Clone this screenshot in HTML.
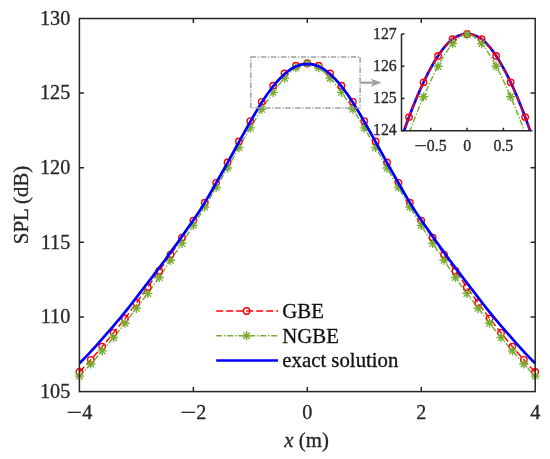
<!DOCTYPE html>
<html><head><meta charset="utf-8"><title>SPL</title>
<style>html,body{margin:0;padding:0;background:#fff}svg{display:block}</style></head>
<body>
<svg width="550" height="459" viewBox="0 0 550 459">
<rect width="550" height="459" fill="#fff"/>
<defs>
<g id="mo"><circle r="3.2" fill="none" stroke="#ff0000" stroke-width="1.4"/></g>
<g id="ma" stroke="#77ac30" stroke-width="1.4" fill="none"><path d="M-4.6,0H4.6M0,-4.6V4.6M-3.25,-3.25L3.25,3.25M-3.25,3.25L3.25,-3.25"/></g>
<clipPath id="cm"><rect x="79.4" y="18.5" width="455.80000000000007" height="373.1"/></clipPath>
<clipPath id="ci"><rect x="401.5" y="28.0" width="130.9" height="102.7"/></clipPath>
</defs>
<g fill="none" stroke-linejoin="round">
<path d="M79.40,371.90 L82.25,369.04 L85.10,366.06 L87.95,362.98 L90.80,359.81 L93.64,356.57 L96.49,353.26 L99.34,349.91 L102.19,346.53 L105.04,343.13 L107.89,339.71 L110.74,336.26 L113.59,332.80 L116.43,329.31 L119.28,325.77 L122.13,322.16 L124.98,318.47 L127.83,314.68 L130.68,310.81 L133.53,306.89 L136.38,302.95 L139.22,299.01 L142.07,295.06 L144.92,291.11 L147.77,287.13 L150.62,283.13 L153.47,279.11 L156.32,275.07 L159.17,271.01 L162.01,266.95 L164.86,262.87 L167.71,258.76 L170.56,254.60 L173.41,250.38 L176.26,246.13 L179.11,241.85 L181.96,237.58 L184.80,233.34 L187.65,229.10 L190.50,224.85 L193.35,220.57 L196.20,216.24 L199.05,211.84 L201.90,207.32 L204.75,202.66 L207.59,197.84 L210.44,192.89 L213.29,187.86 L216.14,182.81 L218.99,177.78 L221.84,172.73 L224.69,167.66 L227.54,162.52 L230.38,157.29 L233.23,152.02 L236.08,146.73 L238.93,141.47 L241.78,136.28 L244.63,131.14 L247.48,126.06 L250.33,121.03 L253.17,116.04 L256.02,111.14 L258.87,106.37 L261.72,101.78 L264.57,97.40 L267.42,93.25 L270.27,89.34 L273.12,85.66 L275.96,82.22 L278.81,79.03 L281.66,76.10 L284.51,73.42 L287.36,71.01 L290.21,68.90 L293.06,67.11 L295.91,65.66 L298.75,64.57 L301.60,63.83 L304.45,63.41 L307.30,63.27 L310.15,63.41 L313.00,63.83 L315.85,64.57 L318.70,65.66 L321.54,67.11 L324.39,68.90 L327.24,71.01 L330.09,73.42 L332.94,76.10 L335.79,79.03 L338.64,82.22 L341.49,85.66 L344.33,89.34 L347.18,93.25 L350.03,97.40 L352.88,101.78 L355.73,106.37 L358.58,111.14 L361.43,116.04 L364.28,121.03 L367.12,126.06 L369.97,131.14 L372.82,136.28 L375.67,141.47 L378.52,146.73 L381.37,152.02 L384.22,157.29 L387.07,162.52 L389.91,167.66 L392.76,172.73 L395.61,177.78 L398.46,182.81 L401.31,187.86 L404.16,192.89 L407.01,197.84 L409.86,202.66 L412.70,207.32 L415.55,211.84 L418.40,216.24 L421.25,220.57 L424.10,224.85 L426.95,229.10 L429.80,233.34 L432.65,237.58 L435.49,241.85 L438.34,246.13 L441.19,250.38 L444.04,254.60 L446.89,258.76 L449.74,262.87 L452.59,266.95 L455.44,271.01 L458.28,275.07 L461.13,279.11 L463.98,283.13 L466.83,287.13 L469.68,291.11 L472.53,295.06 L475.38,299.01 L478.23,302.95 L481.07,306.89 L483.92,310.81 L486.77,314.68 L489.62,318.47 L492.47,322.16 L495.32,325.77 L498.17,329.31 L501.02,332.80 L503.86,336.26 L506.71,339.71 L509.56,343.13 L512.41,346.53 L515.26,349.91 L518.11,353.26 L520.96,356.57 L523.81,359.81 L526.65,362.98 L529.50,366.06 L532.35,369.04 L535.20,371.90" stroke="#ff0000" stroke-width="1.45" stroke-dasharray="7 3"/>
<path d="M79.40,376.08 L82.25,373.21 L85.10,370.23 L87.95,367.15 L90.80,363.99 L93.64,360.76 L96.49,357.49 L99.34,354.18 L102.19,350.86 L105.04,347.53 L107.89,344.19 L110.74,340.83 L113.59,337.43 L116.43,333.97 L119.28,330.46 L122.13,326.88 L124.98,323.25 L127.83,319.55 L130.68,315.82 L133.53,312.06 L136.38,308.32 L139.22,304.61 L142.07,300.90 L144.92,297.18 L147.77,293.40 L150.62,289.55 L153.47,285.61 L156.32,281.57 L159.17,277.43 L162.01,273.18 L164.86,268.87 L167.71,264.55 L170.56,260.27 L173.41,256.06 L176.26,251.89 L179.11,247.69 L181.96,243.40 L184.80,238.99 L187.65,234.48 L190.50,229.91 L193.35,225.35 L196.20,220.81 L199.05,216.27 L201.90,211.68 L204.75,206.99 L207.59,202.18 L210.44,197.27 L213.29,192.34 L216.14,187.44 L218.99,182.60 L221.84,177.80 L224.69,172.96 L227.54,168.04 L230.38,162.99 L233.23,157.86 L236.08,152.71 L238.93,147.59 L241.78,142.56 L244.63,137.60 L247.48,132.72 L250.33,127.89 L253.17,123.12 L256.02,118.41 L258.87,113.77 L261.72,109.24 L264.57,104.82 L267.42,100.52 L270.27,96.37 L273.12,92.37 L275.96,88.55 L278.81,84.90 L281.66,81.45 L284.51,78.20 L287.36,75.16 L290.21,72.37 L293.06,69.89 L295.91,67.75 L298.75,66.00 L301.60,64.68 L304.45,63.86 L307.30,63.57 L310.15,63.86 L313.00,64.68 L315.85,66.00 L318.70,67.75 L321.54,69.89 L324.39,72.37 L327.24,75.16 L330.09,78.20 L332.94,81.45 L335.79,84.90 L338.64,88.55 L341.49,92.37 L344.33,96.37 L347.18,100.52 L350.03,104.82 L352.88,109.24 L355.73,113.77 L358.58,118.41 L361.43,123.12 L364.28,127.89 L367.12,132.72 L369.97,137.60 L372.82,142.56 L375.67,147.59 L378.52,152.71 L381.37,157.86 L384.22,162.99 L387.07,168.04 L389.91,172.96 L392.76,177.80 L395.61,182.60 L398.46,187.44 L401.31,192.34 L404.16,197.27 L407.01,202.18 L409.86,206.99 L412.70,211.68 L415.55,216.27 L418.40,220.81 L421.25,225.35 L424.10,229.91 L426.95,234.48 L429.80,238.99 L432.65,243.40 L435.49,247.69 L438.34,251.89 L441.19,256.06 L444.04,260.27 L446.89,264.55 L449.74,268.87 L452.59,273.18 L455.44,277.43 L458.28,281.57 L461.13,285.61 L463.98,289.55 L466.83,293.40 L469.68,297.18 L472.53,300.90 L475.38,304.61 L478.23,308.32 L481.07,312.06 L483.92,315.82 L486.77,319.55 L489.62,323.25 L492.47,326.88 L495.32,330.46 L498.17,333.97 L501.02,337.43 L503.86,340.83 L506.71,344.19 L509.56,347.53 L512.41,350.86 L515.26,354.18 L518.11,357.49 L520.96,360.76 L523.81,363.99 L526.65,367.15 L529.50,370.23 L532.35,373.21 L535.20,376.08" stroke="#77ac30" stroke-width="1.45" stroke-dasharray="6 1.8 1.4 1.8"/>
</g>
<use href="#mo" x="79.40" y="371.90"/>
<use href="#mo" x="90.80" y="359.81"/>
<use href="#mo" x="102.19" y="346.53"/>
<use href="#mo" x="113.59" y="332.80"/>
<use href="#mo" x="124.98" y="318.47"/>
<use href="#mo" x="136.38" y="302.95"/>
<use href="#mo" x="147.77" y="287.13"/>
<use href="#mo" x="159.17" y="271.01"/>
<use href="#mo" x="170.56" y="254.60"/>
<use href="#mo" x="181.96" y="237.58"/>
<use href="#mo" x="193.35" y="220.57"/>
<use href="#mo" x="204.75" y="202.66"/>
<use href="#mo" x="216.14" y="182.81"/>
<use href="#mo" x="227.54" y="162.52"/>
<use href="#mo" x="238.93" y="141.47"/>
<use href="#mo" x="250.33" y="121.03"/>
<use href="#mo" x="261.72" y="101.78"/>
<use href="#mo" x="273.12" y="85.66"/>
<use href="#mo" x="284.51" y="73.42"/>
<use href="#mo" x="295.91" y="65.66"/>
<use href="#mo" x="307.30" y="63.27"/>
<use href="#mo" x="318.70" y="65.66"/>
<use href="#mo" x="330.09" y="73.42"/>
<use href="#mo" x="341.49" y="85.66"/>
<use href="#mo" x="352.88" y="101.78"/>
<use href="#mo" x="364.28" y="121.03"/>
<use href="#mo" x="375.67" y="141.47"/>
<use href="#mo" x="387.07" y="162.52"/>
<use href="#mo" x="398.46" y="182.81"/>
<use href="#mo" x="409.86" y="202.66"/>
<use href="#mo" x="421.25" y="220.57"/>
<use href="#mo" x="432.65" y="237.58"/>
<use href="#mo" x="444.04" y="254.60"/>
<use href="#mo" x="455.44" y="271.01"/>
<use href="#mo" x="466.83" y="287.13"/>
<use href="#mo" x="478.23" y="302.95"/>
<use href="#mo" x="489.62" y="318.47"/>
<use href="#mo" x="501.02" y="332.80"/>
<use href="#mo" x="512.41" y="346.53"/>
<use href="#mo" x="523.81" y="359.81"/>
<use href="#mo" x="535.20" y="371.90"/>
<use href="#ma" x="79.40" y="376.08"/>
<use href="#ma" x="90.80" y="363.99"/>
<use href="#ma" x="102.19" y="350.86"/>
<use href="#ma" x="113.59" y="337.43"/>
<use href="#ma" x="124.98" y="323.25"/>
<use href="#ma" x="136.38" y="308.32"/>
<use href="#ma" x="147.77" y="293.40"/>
<use href="#ma" x="159.17" y="277.43"/>
<use href="#ma" x="170.56" y="260.27"/>
<use href="#ma" x="181.96" y="243.40"/>
<use href="#ma" x="193.35" y="225.35"/>
<use href="#ma" x="204.75" y="206.99"/>
<use href="#ma" x="216.14" y="187.44"/>
<use href="#ma" x="227.54" y="168.04"/>
<use href="#ma" x="238.93" y="147.59"/>
<use href="#ma" x="250.33" y="127.89"/>
<use href="#ma" x="261.72" y="109.24"/>
<use href="#ma" x="273.12" y="92.37"/>
<use href="#ma" x="284.51" y="78.20"/>
<use href="#ma" x="295.91" y="67.75"/>
<use href="#ma" x="307.30" y="63.57"/>
<use href="#ma" x="318.70" y="67.75"/>
<use href="#ma" x="330.09" y="78.20"/>
<use href="#ma" x="341.49" y="92.37"/>
<use href="#ma" x="352.88" y="109.24"/>
<use href="#ma" x="364.28" y="127.89"/>
<use href="#ma" x="375.67" y="147.59"/>
<use href="#ma" x="387.07" y="168.04"/>
<use href="#ma" x="398.46" y="187.44"/>
<use href="#ma" x="409.86" y="206.99"/>
<use href="#ma" x="421.25" y="225.35"/>
<use href="#ma" x="432.65" y="243.40"/>
<use href="#ma" x="444.04" y="260.27"/>
<use href="#ma" x="455.44" y="277.43"/>
<use href="#ma" x="466.83" y="293.40"/>
<use href="#ma" x="478.23" y="308.32"/>
<use href="#ma" x="489.62" y="323.25"/>
<use href="#ma" x="501.02" y="337.43"/>
<use href="#ma" x="512.41" y="350.86"/>
<use href="#ma" x="523.81" y="363.99"/>
<use href="#ma" x="535.20" y="376.08"/>
<path d="M79.40,363.39 L82.25,360.56 L85.10,357.64 L87.95,354.65 L90.80,351.60 L93.64,348.50 L96.49,345.34 L99.34,342.15 L102.19,338.92 L105.04,335.66 L107.89,332.39 L110.74,329.09 L113.59,325.79 L116.43,322.46 L119.28,319.10 L122.13,315.69 L124.98,312.20 L127.83,308.63 L130.68,304.98 L133.53,301.29 L136.38,297.58 L139.22,293.88 L142.07,290.18 L144.92,286.49 L147.77,282.80 L150.62,279.11 L153.47,275.39 L156.32,271.66 L159.17,267.88 L162.01,264.06 L164.86,260.20 L167.71,256.29 L170.56,252.36 L173.41,248.40 L176.26,244.41 L179.11,240.41 L181.96,236.39 L184.80,232.36 L187.65,228.32 L190.50,224.24 L193.35,220.12 L196.20,215.94 L199.05,211.67 L201.90,207.25 L204.75,202.66 L207.59,197.92 L210.44,193.01 L213.29,188.02 L216.14,183.00 L218.99,178.00 L221.84,173.00 L224.69,167.98 L227.54,162.89 L230.38,157.72 L233.23,152.49 L236.08,147.25 L238.93,142.03 L241.78,136.88 L244.63,131.79 L247.48,126.76 L250.33,121.77 L253.17,116.79 L256.02,111.89 L258.87,107.12 L261.72,102.52 L264.57,98.15 L267.42,94.00 L270.27,90.08 L273.12,86.40 L275.96,82.97 L278.81,79.78 L281.66,76.84 L284.51,74.17 L287.36,71.76 L290.21,69.65 L293.06,67.85 L295.91,66.41 L298.75,65.32 L301.60,64.58 L304.45,64.15 L307.30,64.02 L310.15,64.15 L313.00,64.58 L315.85,65.32 L318.70,66.41 L321.54,67.85 L324.39,69.65 L327.24,71.76 L330.09,74.17 L332.94,76.84 L335.79,79.78 L338.64,82.97 L341.49,86.40 L344.33,90.08 L347.18,94.00 L350.03,98.15 L352.88,102.52 L355.73,107.12 L358.58,111.89 L361.43,116.79 L364.28,121.77 L367.12,126.76 L369.97,131.79 L372.82,136.88 L375.67,142.03 L378.52,147.25 L381.37,152.49 L384.22,157.72 L387.07,162.89 L389.91,167.98 L392.76,173.00 L395.61,178.00 L398.46,183.00 L401.31,188.02 L404.16,193.01 L407.01,197.92 L409.86,202.66 L412.70,207.25 L415.55,211.67 L418.40,215.94 L421.25,220.12 L424.10,224.24 L426.95,228.32 L429.80,232.36 L432.65,236.39 L435.49,240.41 L438.34,244.41 L441.19,248.40 L444.04,252.36 L446.89,256.29 L449.74,260.20 L452.59,264.06 L455.44,267.88 L458.28,271.66 L461.13,275.39 L463.98,279.11 L466.83,282.80 L469.68,286.49 L472.53,290.18 L475.38,293.88 L478.23,297.58 L481.07,301.29 L483.92,304.98 L486.77,308.63 L489.62,312.20 L492.47,315.69 L495.32,319.10 L498.17,322.46 L501.02,325.79 L503.86,329.09 L506.71,332.39 L509.56,335.66 L512.41,338.92 L515.26,342.15 L518.11,345.34 L520.96,348.50 L523.81,351.60 L526.65,354.65 L529.50,357.64 L532.35,360.56 L535.20,363.39" fill="none" stroke="#0000ff" stroke-width="2.7" stroke-linejoin="round"/>
<rect x="250.8" y="56.9" width="109.3" height="51.2" fill="none" stroke="#a0a0a0" stroke-width="1.5" stroke-dasharray="5.5 1.6 1.3 1.6"/>
<path d="M360.1,82.7H374.5" stroke="#a0a0a0" stroke-width="2.2" fill="none"/>
<path d="M381.6,82.7L370.6,78.6L373.6,82.7L370.6,86.8Z" fill="#a0a0a0"/>
<g stroke="#262626" stroke-width="1.5" fill="none">
<rect x="79.4" y="18.5" width="455.8" height="373.1"/>
<path d="M193.35,391.6v-4.6M193.35,18.5v4.6"/>
<path d="M307.30,391.6v-4.6M307.30,18.5v4.6"/>
<path d="M421.25,391.6v-4.6M421.25,18.5v4.6"/>
<path d="M79.4,316.98h4.6M535.2,316.98h-4.6"/>
<path d="M79.4,242.36h4.6M535.2,242.36h-4.6"/>
<path d="M79.4,167.74h4.6M535.2,167.74h-4.6"/>
<path d="M79.4,93.12h4.6M535.2,93.12h-4.6"/>
</g>
<g clip-path="url(#ci)">
<path d="M401.76,137.28 L402.58,134.93 L403.39,132.61 L404.21,130.29 L405.03,128.00 L405.84,125.72 L406.66,123.47 L407.48,121.23 L408.29,119.02 L409.11,116.83 L409.93,114.67 L410.74,112.53 L411.56,110.42 L412.38,108.33 L413.19,106.26 L414.01,104.22 L414.83,102.20 L415.64,100.21 L416.46,98.25 L417.28,96.31 L418.10,94.40 L418.91,92.51 L419.73,90.65 L420.55,88.81 L421.36,87.00 L422.18,85.22 L423.00,83.46 L423.81,81.73 L424.63,80.02 L425.45,78.34 L426.26,76.69 L427.08,75.06 L427.90,73.46 L428.71,71.89 L429.53,70.35 L430.35,68.83 L431.16,67.34 L431.98,65.88 L432.80,64.45 L433.61,63.05 L434.43,61.67 L435.25,60.32 L436.06,59.00 L436.88,57.71 L437.70,56.45 L438.51,55.21 L439.33,54.01 L440.15,52.84 L440.96,51.70 L441.78,50.58 L442.60,49.50 L443.41,48.46 L444.23,47.45 L445.05,46.47 L445.86,45.52 L446.68,44.61 L447.50,43.74 L448.31,42.90 L449.13,42.10 L449.95,41.34 L450.77,40.62 L451.58,39.93 L452.40,39.29 L453.22,38.69 L454.03,38.12 L454.85,37.60 L455.67,37.11 L456.48,36.66 L457.30,36.25 L458.12,35.88 L458.93,35.54 L459.75,35.24 L460.57,34.97 L461.38,34.74 L462.20,34.54 L463.02,34.37 L463.83,34.24 L464.65,34.13 L465.47,34.06 L466.28,34.01 L467.10,34.00 L467.92,34.01 L468.73,34.06 L469.55,34.13 L470.37,34.24 L471.18,34.37 L472.00,34.54 L472.82,34.74 L473.63,34.97 L474.45,35.24 L475.27,35.54 L476.08,35.88 L476.90,36.25 L477.72,36.66 L478.53,37.11 L479.35,37.60 L480.17,38.12 L480.98,38.69 L481.80,39.29 L482.62,39.93 L483.44,40.62 L484.25,41.34 L485.07,42.10 L485.89,42.90 L486.70,43.74 L487.52,44.61 L488.34,45.52 L489.15,46.47 L489.97,47.45 L490.79,48.46 L491.60,49.50 L492.42,50.58 L493.24,51.70 L494.05,52.84 L494.87,54.01 L495.69,55.21 L496.50,56.45 L497.32,57.71 L498.14,59.00 L498.95,60.32 L499.77,61.67 L500.59,63.05 L501.40,64.45 L502.22,65.88 L503.04,67.34 L503.85,68.83 L504.67,70.35 L505.49,71.89 L506.30,73.46 L507.12,75.06 L507.94,76.69 L508.75,78.34 L509.57,80.02 L510.39,81.73 L511.20,83.46 L512.02,85.22 L512.84,87.00 L513.65,88.81 L514.47,90.65 L515.29,92.51 L516.11,94.40 L516.92,96.31 L517.74,98.25 L518.56,100.21 L519.37,102.20 L520.19,104.22 L521.01,106.26 L521.82,108.33 L522.64,110.42 L523.46,112.53 L524.27,114.67 L525.09,116.83 L525.91,119.02 L526.72,121.23 L527.54,123.47 L528.36,125.72 L529.17,128.00 L529.99,130.29 L530.81,132.61 L531.62,134.93 L532.44,137.28" fill="none" stroke="#0000ff" stroke-width="2.7"/>
<path d="M401.76,137.28 L402.58,134.93 L403.39,132.61 L404.21,130.29 L405.03,128.00 L405.84,125.72 L406.66,123.47 L407.48,121.23 L408.29,119.02 L409.11,116.83 L409.93,114.67 L410.74,112.53 L411.56,110.42 L412.38,108.33 L413.19,106.26 L414.01,104.22 L414.83,102.20 L415.64,100.21 L416.46,98.25 L417.28,96.31 L418.10,94.40 L418.91,92.51 L419.73,90.65 L420.55,88.81 L421.36,87.00 L422.18,85.22 L423.00,83.46 L423.81,81.73 L424.63,80.02 L425.45,78.34 L426.26,76.69 L427.08,75.06 L427.90,73.46 L428.71,71.89 L429.53,70.35 L430.35,68.83 L431.16,67.34 L431.98,65.88 L432.80,64.45 L433.61,63.05 L434.43,61.67 L435.25,60.32 L436.06,59.00 L436.88,57.71 L437.70,56.45 L438.51,55.21 L439.33,54.01 L440.15,52.84 L440.96,51.70 L441.78,50.58 L442.60,49.50 L443.41,48.46 L444.23,47.45 L445.05,46.47 L445.86,45.52 L446.68,44.61 L447.50,43.74 L448.31,42.90 L449.13,42.10 L449.95,41.34 L450.77,40.62 L451.58,39.93 L452.40,39.29 L453.22,38.69 L454.03,38.12 L454.85,37.60 L455.67,37.11 L456.48,36.66 L457.30,36.25 L458.12,35.88 L458.93,35.54 L459.75,35.24 L460.57,34.97 L461.38,34.74 L462.20,34.54 L463.02,34.37 L463.83,34.24 L464.65,34.13 L465.47,34.06 L466.28,34.01 L467.10,34.00 L467.92,34.01 L468.73,34.06 L469.55,34.13 L470.37,34.24 L471.18,34.37 L472.00,34.54 L472.82,34.74 L473.63,34.97 L474.45,35.24 L475.27,35.54 L476.08,35.88 L476.90,36.25 L477.72,36.66 L478.53,37.11 L479.35,37.60 L480.17,38.12 L480.98,38.69 L481.80,39.29 L482.62,39.93 L483.44,40.62 L484.25,41.34 L485.07,42.10 L485.89,42.90 L486.70,43.74 L487.52,44.61 L488.34,45.52 L489.15,46.47 L489.97,47.45 L490.79,48.46 L491.60,49.50 L492.42,50.58 L493.24,51.70 L494.05,52.84 L494.87,54.01 L495.69,55.21 L496.50,56.45 L497.32,57.71 L498.14,59.00 L498.95,60.32 L499.77,61.67 L500.59,63.05 L501.40,64.45 L502.22,65.88 L503.04,67.34 L503.85,68.83 L504.67,70.35 L505.49,71.89 L506.30,73.46 L507.12,75.06 L507.94,76.69 L508.75,78.34 L509.57,80.02 L510.39,81.73 L511.20,83.46 L512.02,85.22 L512.84,87.00 L513.65,88.81 L514.47,90.65 L515.29,92.51 L516.11,94.40 L516.92,96.31 L517.74,98.25 L518.56,100.21 L519.37,102.20 L520.19,104.22 L521.01,106.26 L521.82,108.33 L522.64,110.42 L523.46,112.53 L524.27,114.67 L525.09,116.83 L525.91,119.02 L526.72,121.23 L527.54,123.47 L528.36,125.72 L529.17,128.00 L529.99,130.29 L530.81,132.61 L531.62,134.93 L532.44,137.28" fill="none" stroke="#ff0000" stroke-width="1.45" stroke-dasharray="7 3"/>
<path d="M401.76,152.96 L402.58,150.69 L403.39,148.44 L404.21,146.19 L405.03,143.95 L405.84,141.73 L406.66,139.51 L407.48,137.31 L408.29,135.11 L409.11,132.93 L409.93,130.77 L410.74,128.61 L411.56,126.47 L412.38,124.34 L413.19,122.23 L414.01,120.13 L414.83,118.04 L415.64,115.97 L416.46,113.91 L417.28,111.87 L418.10,109.85 L418.91,107.84 L419.73,105.85 L420.55,103.88 L421.36,101.92 L422.18,99.98 L423.00,98.06 L423.81,96.16 L424.63,94.27 L425.45,92.41 L426.26,90.56 L427.08,88.74 L427.90,86.93 L428.71,85.15 L429.53,83.38 L430.35,81.63 L431.16,79.91 L431.98,78.20 L432.80,76.52 L433.61,74.86 L434.43,73.22 L435.25,71.60 L436.06,70.01 L436.88,68.43 L437.70,66.88 L438.51,65.35 L439.33,63.85 L440.15,62.37 L440.96,60.92 L441.78,59.49 L442.60,58.09 L443.41,56.72 L444.23,55.38 L445.05,54.07 L445.86,52.79 L446.68,51.55 L447.50,50.34 L448.31,49.17 L449.13,48.03 L449.95,46.93 L450.77,45.87 L451.58,44.85 L452.40,43.87 L453.22,42.93 L454.03,42.04 L454.85,41.19 L455.67,40.39 L456.48,39.63 L457.30,38.92 L458.12,38.27 L458.93,37.66 L459.75,37.10 L460.57,36.60 L461.38,36.15 L462.20,35.76 L463.02,35.42 L463.83,35.15 L464.65,34.93 L465.47,34.77 L466.28,34.68 L467.10,34.64 L467.92,34.68 L468.73,34.77 L469.55,34.93 L470.37,35.15 L471.18,35.42 L472.00,35.76 L472.82,36.15 L473.63,36.60 L474.45,37.10 L475.27,37.66 L476.08,38.27 L476.90,38.92 L477.72,39.63 L478.53,40.39 L479.35,41.19 L480.17,42.04 L480.98,42.93 L481.80,43.87 L482.62,44.85 L483.44,45.87 L484.25,46.93 L485.07,48.03 L485.89,49.17 L486.70,50.34 L487.52,51.55 L488.34,52.79 L489.15,54.07 L489.97,55.38 L490.79,56.72 L491.60,58.09 L492.42,59.49 L493.24,60.92 L494.05,62.37 L494.87,63.85 L495.69,65.35 L496.50,66.88 L497.32,68.43 L498.14,70.01 L498.95,71.60 L499.77,73.22 L500.59,74.86 L501.40,76.52 L502.22,78.20 L503.04,79.91 L503.85,81.63 L504.67,83.38 L505.49,85.15 L506.30,86.93 L507.12,88.74 L507.94,90.56 L508.75,92.41 L509.57,94.27 L510.39,96.16 L511.20,98.06 L512.02,99.98 L512.84,101.92 L513.65,103.88 L514.47,105.85 L515.29,107.84 L516.11,109.85 L516.92,111.87 L517.74,113.91 L518.56,115.97 L519.37,118.04 L520.19,120.13 L521.01,122.23 L521.82,124.34 L522.64,126.47 L523.46,128.61 L524.27,130.77 L525.09,132.93 L525.91,135.11 L526.72,137.31 L527.54,139.51 L528.36,141.73 L529.17,143.95 L529.99,146.19 L530.81,148.44 L531.62,150.69 L532.44,152.96" fill="none" stroke="#77ac30" stroke-width="1.45" stroke-dasharray="6 1.8 1.4 1.8"/>
<use href="#mo" x="409.02" y="117.08"/>
<use href="#mo" x="423.54" y="82.30"/>
<use href="#ma" x="423.54" y="96.79"/>
<use href="#mo" x="438.06" y="55.90"/>
<use href="#ma" x="438.06" y="66.20"/>
<use href="#mo" x="452.58" y="39.15"/>
<use href="#ma" x="452.58" y="43.66"/>
<use href="#mo" x="467.10" y="34.00"/>
<use href="#ma" x="467.10" y="34.64"/>
<use href="#mo" x="481.62" y="39.15"/>
<use href="#ma" x="481.62" y="43.66"/>
<use href="#mo" x="496.14" y="55.90"/>
<use href="#ma" x="496.14" y="66.20"/>
<use href="#mo" x="510.66" y="82.30"/>
<use href="#ma" x="510.66" y="96.79"/>
<use href="#mo" x="525.18" y="117.08"/>
</g>
<g stroke="#262626" stroke-width="1.5" fill="none">
<path d="M401.5,34.0V130.7H532.4"/>
<path d="M430.80,130.7v-3"/>
<path d="M467.10,130.7v-3"/>
<path d="M503.40,130.7v-3"/>
<path d="M401.5,130.60h3"/>
<path d="M401.5,98.40h3"/>
<path d="M401.5,66.20h3"/>
<path d="M401.5,34.00h3"/>
</g>
<g font-family="'Liberation Serif', 'DejaVu Serif', serif" fill="#262626" stroke="#262626" stroke-width="0.3" font-size="20.2">
<text x="70.3" y="397.8" text-anchor="end">105</text>
<text x="70.3" y="323.2" text-anchor="end">110</text>
<text x="70.3" y="248.6" text-anchor="end">115</text>
<text x="70.3" y="173.9" text-anchor="end">120</text>
<text x="70.3" y="99.3" text-anchor="end">125</text>
<text x="70.3" y="24.7" text-anchor="end">130</text>
<text transform="translate(66.49,418.7) scale(1.379,1)" font-size="20.2">−</text>
<text x="82.21" y="418.7" font-size="20.2">4</text>
<text transform="translate(180.44,418.7) scale(1.379,1)" font-size="20.2">−</text>
<text x="196.16" y="418.7" font-size="20.2">2</text>
<text x="307.30" y="418.7" text-anchor="middle" font-size="20.2">0</text>
<text x="421.25" y="418.7" text-anchor="middle" font-size="20.2">2</text>
<text x="535.20" y="418.7" text-anchor="middle" font-size="20.2">4</text>
<text x="306.6" y="446.6" text-anchor="middle" font-size="20.8"><tspan font-style="italic">x</tspan> (m)</text>
<text transform="translate(28.4,205) rotate(-90)" text-anchor="middle" font-size="20.8">SPL (dB)</text>
<text x="396.7" y="135.4" text-anchor="end" font-size="15.8">124</text>
<text x="396.7" y="103.2" text-anchor="end" font-size="15.8">125</text>
<text x="396.7" y="71.0" text-anchor="end" font-size="15.8">126</text>
<text x="396.7" y="38.8" text-anchor="end" font-size="15.8">127</text>
<text transform="translate(414.56,150.5) scale(1.379,1)" font-size="15.8">−</text>
<text x="426.85" y="150.5" font-size="15.8">0.5</text>
<text x="467.10" y="150.5" text-anchor="middle" font-size="15.8">0</text>
<text x="503.40" y="150.5" text-anchor="middle" font-size="15.8">0.5</text>
<text x="282.3" y="317.8" font-size="20.8" fill="#111" stroke="#111">GBE</text>
<text x="282.3" y="342.6" font-size="20.8" fill="#111" stroke="#111">NGBE</text>
<text x="282.3" y="367.4" font-size="20.8" fill="#111" stroke="#111">exact solution</text>
</g>
<path d="M216.2,311H278" stroke="#ff0000" stroke-width="1.45" stroke-dasharray="7 3" fill="none"/>
<use href="#mo" x="246.6" y="311"/>
<path d="M216.2,335.7H278" stroke="#77ac30" stroke-width="1.45" stroke-dasharray="6 1.8 1.4 1.8" fill="none"/>
<use href="#ma" x="246.6" y="335.7"/>
<path d="M216.2,360.5H278" stroke="#0000ff" stroke-width="2.7" fill="none"/>
</svg>
</body></html>
